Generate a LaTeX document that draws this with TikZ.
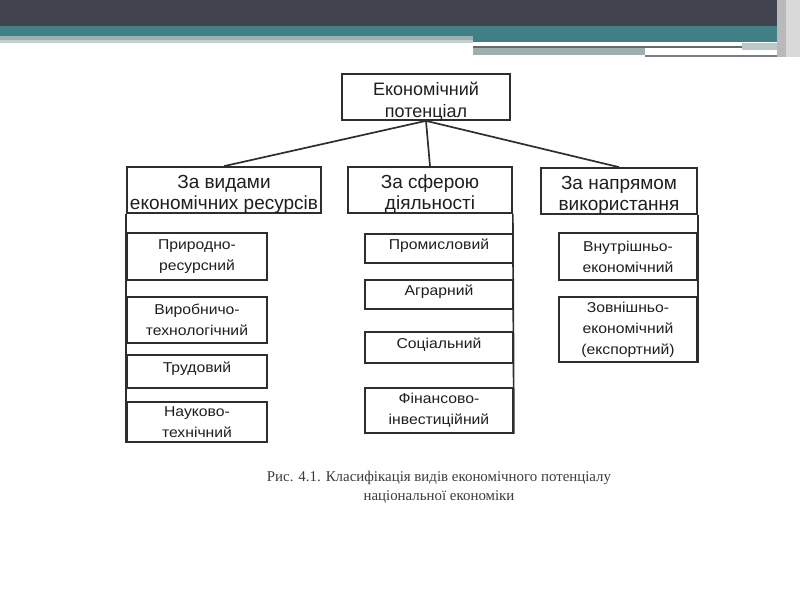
\documentclass[tikz,border=0pt]{standalone}
\usepackage{fontspec}
\setmainfont{Liberation Serif}
\setsansfont{Liberation Sans}
\newfontfamily\itemfont[FakeStretch=1.1]{Liberation Sans}
\usetikzlibrary{calc}

\definecolor{headdark}{HTML}{41434F}
\definecolor{headteal}{HTML}{3F7F85}
\definecolor{headgray}{HTML}{9DB0AF}
\definecolor{boxline}{HTML}{2E2E2E}
\definecolor{boxtext}{HTML}{1E1E1E}
\definecolor{captext}{HTML}{3C3C3C}

\newcommand{\padtop}[1]{\rule{0pt}{#1}}
\newcommand{\nodepth}[1]{\raisebox{0pt}[\height][0pt]{#1}}

\tikzset{
  box/.style = {draw=boxline, line width=1.7pt, inner sep=0pt, align=center,
                font=\sffamily, text=boxtext},
  topbox/.style = {box, font=\sffamily\fontsize{18}{22}\selectfont},
  groupbox/.style = {box, font=\sffamily\fontsize{19}{21}\selectfont},
  itembox/.style = {box, font=\itemfont\fontsize{14.3}{21}\selectfont},
  itemline/.style = {itembox, execute at end node={\rule[-9pt]{0pt}{0pt}}},
  link/.style = {draw=boxline, line width=1.7pt}
}

\begin{document}
\begin{tikzpicture}[x=1pt, y=-1pt]
\useasboundingbox (0,0) rectangle (800,600);
%header
\fill[white] (0,0) rectangle (800,600);
\fill[headgray!60] (0,37) rectangle (473,43);
\fill[headgray] (0,36) rectangle (473,40);
\fill[headteal] (0,26) rectangle (800,36);
\fill[headteal] (473,36) rectangle (777,42);
\fill[headdark!80] (473,46) rectangle (742,48);
\fill[headgray] (473,48) rectangle (645,55);
\fill[headgray!70] (742,43) rectangle (777,50);
\fill[headdark!70] (645,55) rectangle (777,57);
\fill[headdark] (0,0) rectangle (777,26);
\fill[gray!55] (777,0) rectangle (800,57);
\fill[gray!30] (786,0) rectangle (800,57);

%top
\node[topbox, minimum width=168pt, minimum height=46pt] (econ) at (426,97)
  {\padtop{19pt}Економічний\\\nodepth{потенціал}};

%groups
\node[groupbox, minimum width=194pt, minimum height=46pt] (byres) at (224,190)
  {\padtop{17pt}За видами\\\nodepth{економічних ресурсів}};
\node[groupbox, minimum width=164pt, minimum height=46pt] (bysphere) at (430,190)
  {\padtop{17pt}За сферою\\\nodepth{діяльності}};
\node[groupbox, minimum width=156pt, minimum height=46pt] (bydir) at (619,191)
  {\padtop{17pt}За напрямом\\\nodepth{використання}};

\foreach \g in {byres,bysphere,bydir}
  \draw[link] (econ.south) -- (\g.north);

%resources
\node[itembox, minimum width=140pt, minimum height=47pt] (res1) at (197,256.5) {Природно-\\ресурсний};
\node[itembox, minimum width=140pt, minimum height=46pt] (res2) at (197,320) {Виробничо-\\технологічний};
\node[itemline, minimum width=140pt, minimum height=33pt] (res3) at (197,371.5) {Трудовий};
\node[itembox, minimum width=140pt, minimum height=40pt] (res4) at (197,422) {Науково-\\технічний};
\draw[link] (byres.south west) -- (res4.south west);

%spheres
\node[itemline, minimum width=148pt, minimum height=29pt] (sph1) at (439,248.5) {Промисловий};
\node[itemline, minimum width=148pt, minimum height=29pt] (sph2) at (439,294.5) {Аграрний};
\node[itemline, minimum width=148pt, minimum height=31pt] (sph3) at (439,347.5) {Соціальний};
\node[itembox, minimum width=148pt, minimum height=45pt] (sph4) at (439,410.5) {Фінансово-\\інвестиційний};
\draw[link] (bysphere.south east) -- (sph4.south east);

%directions
\node[itembox, minimum width=138pt, minimum height=47pt] (dir1) at (628,256.5) {Внутрішньо-\\економічний};
\node[itembox, minimum width=138pt, minimum height=65pt] (dir2) at (628,329.5) {Зовнішньо-\\економічний\\(експортний)};
\draw[link] (bydir.south east) -- (dir2.south east);

%caption
\node[font=\fontsize{14.9}{19}\selectfont, text=captext, align=center] (caption) at (439,487)
  {Рис. 4.1. Класифікація видів економічного потенціалу\\національної економіки};
\end{tikzpicture}
\end{document}
